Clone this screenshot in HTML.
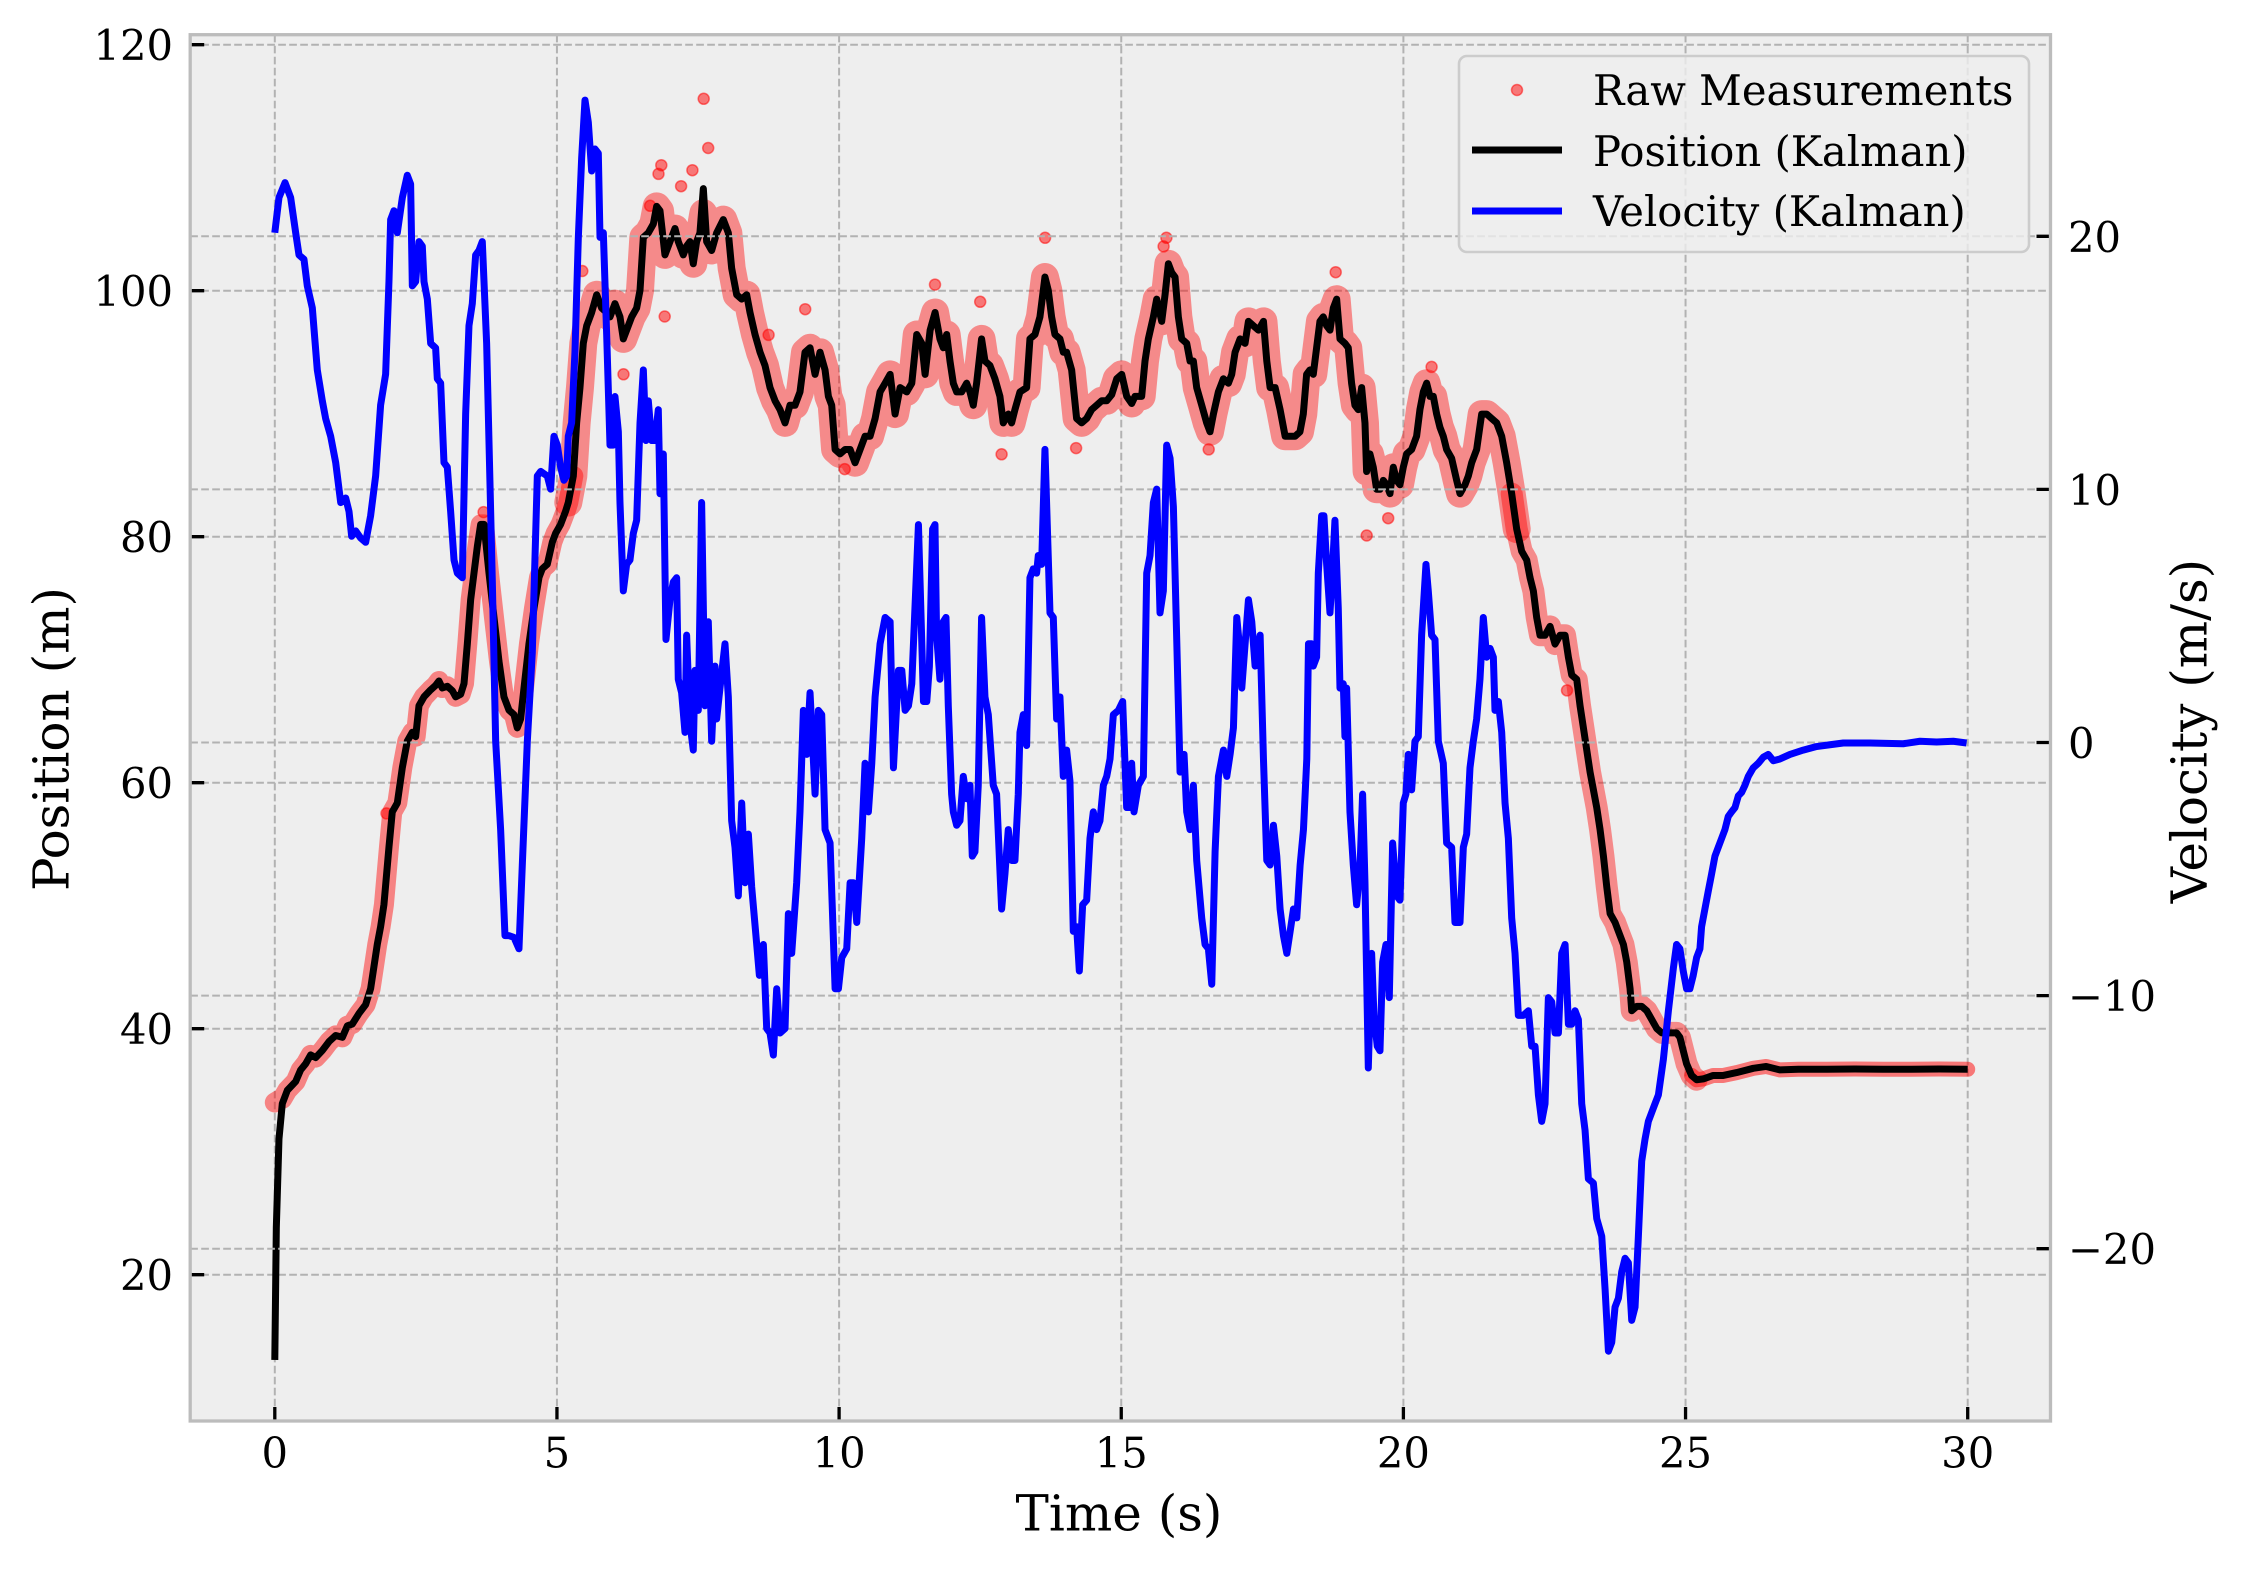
<!DOCTYPE html>
<html>
<head>
<meta charset="utf-8">
<style>
html,body{margin:0;padding:0;background:#ffffff;}
svg{display:block;}
text{font-family:"DejaVu Serif","Liberation Serif",serif;fill:#000;}
</style>
</head>
<body>
<svg width="2249" height="1572" viewBox="0 0 2249 1572" xmlns="http://www.w3.org/2000/svg">
<rect x="0" y="0" width="2249" height="1572" fill="#ffffff"/>
<!-- axes background -->
<rect x="190.2" y="34.7" width="1860.3" height="1386.3" fill="#eeeeee"/>

<!-- grid: vertical + position horizontal -->
<g stroke="#b2b2b2" stroke-width="2" stroke-dasharray="7.7 3.3" fill="none">
  <path d="M274.8 34.7V1421 M556.95 34.7V1421 M839.1 34.7V1421 M1121.25 34.7V1421 M1403.4 34.7V1421 M1685.55 34.7V1421 M1967.7 34.7V1421"/>
  <path d="M190.2 1274.7H2050.5 M190.2 1028.7H2050.5 M190.2 782.7H2050.5 M190.2 536.7H2050.5 M190.2 290.7H2050.5 M190.2 44.7H2050.5"/>
</g>

<!-- raw measurement bands (position coords) -->
<g transform="matrix(56.43 0 0 -12.3 274.8 1520.7)" fill="none" stroke="#ff0000" stroke-linejoin="round" stroke-linecap="round">
  <path vector-effect="non-scaling-stroke" stroke-width="20" stroke-opacity="0.45" d="M0,34 L0.074,34.2 0.133,34.3 0.222,35 0.37,35.71 0.458,36.65 0.547,37.15 0.636,37.87 0.724,37.65 0.842,38.23 0.961,38.95 1.079,39.45 1.197,39.3 1.286,40.24 1.374,40.38 1.492,41.24 1.61,41.96 1.698,43.26 1.757,45.05 1.816,46.85 1.875,48.29 1.934,50.09 2.023,54.76 2.082,57.63 2.171,58.35 2.26,61.23 2.348,63.38 2.437,64.1 2.496,63.74 2.555,66.26 2.644,66.98 2.762,67.55 2.85,67.91 2.909,68.27 2.968,67.7 3.057,67.84 3.146,67.48 3.205,66.98 3.294,67.19 3.353,68.06 3.412,71.29 3.471,74.89 3.53,77.04 3.589,79.2 3.648,81.0 3.707,81.0 3.796,77.04 3.884,73.45 3.973,69.86 4.061,66.98 4.15,65.9 4.238,65.54 4.297,64.46 4.356,65.18 4.416,67.7 4.504,71.29 4.593,74.17 4.682,76.69 4.741,77.4 4.829,77.76 4.918,79.56 4.977,80.28 5.065,81.0 5.154,82.08 5.201,82.78 5.29,84.94"/>
  <path vector-effect="non-scaling-stroke" stroke-width="28" stroke-opacity="0.42" d="M5.201,82.78 L5.29,84.94 5.349,89.25 5.408,92.12 5.467,95.72 5.527,97.15 5.615,98.23 5.704,99.67 5.792,98.59 5.881,98.23 5.94,97.87 6.028,98.95 6.117,97.87 6.176,96.08 6.235,96.79 6.324,97.87 6.412,98.59 6.472,100.03 6.531,104.34 6.619,104.7 6.708,105.42 6.767,106.86 6.826,106.5 6.914,102.91 7.003,103.99 7.092,105.06 7.15,103.99 7.239,102.91 7.298,103.63 7.357,103.99 7.416,102.19 7.475,103.99 7.534,104.7 7.594,106.3 7.653,103.99 7.742,103.27 7.83,104.7 7.948,105.78 8.037,104.7 8.096,101.83 8.185,99.67 8.274,99.31 8.362,99.67 8.421,98.23 8.51,96.44 8.599,95.0 8.687,93.92 8.776,92.12 8.865,91.05 8.953,90.33 9.042,89.25 9.13,90.69 9.219,90.69 9.307,91.77 9.396,95.0 9.485,95.36 9.574,93.2 9.662,95.0 9.751,93.56 9.81,91.41 9.869,90.69 9.929,87.09 10.017,86.73 10.106,87.09 10.195,87.09 10.283,86.01 10.372,87.09 10.46,88.17 10.549,88.17 10.638,89.61 10.726,91.77 10.815,92.48 10.904,93.2 10.992,89.97 11.081,92.12 11.199,91.77 11.288,92.48 11.376,96.44 11.465,95.72 11.524,93.2 11.613,96.79 11.701,98.23 11.787,96.08 11.846,95.36 11.906,96.44 11.965,94.28 12.024,92.48 12.083,91.77 12.172,91.77 12.26,92.48 12.319,91.77 12.378,90.69 12.437,92.48 12.525,96.08 12.585,94.28 12.673,93.92 12.762,92.84 12.85,91.41 12.909,89.25 12.998,89.97 13.057,89.25 13.116,90.33 13.205,91.77 13.323,92.12 13.382,96.08 13.471,96.44 13.559,97.87 13.648,101.11 13.707,100.03 13.766,97.87 13.825,96.44 13.914,96.08 13.973,95.0 14.032,95.0 14.121,93.56 14.209,89.61 14.298,89.25 14.387,89.61 14.475,90.33 14.564,90.69 14.653,91.05 14.742,91.05 14.831,91.55 14.92,92.84 15.008,93.2 15.097,91.41 15.185,90.83 15.244,91.41 15.362,91.41 15.421,94.28 15.48,96.08 15.569,97.87 15.628,99.31 15.717,97.51 15.776,99.67 15.835,102.19 15.894,101.47 15.953,101.11 16.012,97.87 16.071,96.08 16.16,95.72 16.219,94.28 16.278,94.28 16.337,92.12 16.426,90.69 16.514,89.25 16.573,88.53 16.633,89.97 16.721,91.77 16.81,92.84 16.899,92.48 16.958,93.2 17.017,95.0 17.106,96.08 17.194,95.72 17.254,97.51 17.342,97.15 17.431,96.79 17.52,97.51 17.579,94.28 17.638,92.12 17.727,92.12 17.815,90.33 17.904,88.17 17.993,88.17 18.082,88.17 18.167,88.53 18.226,89.97 18.285,93.2 18.344,93.56 18.403,93.2 18.462,95.36 18.521,97.51 18.58,97.87 18.64,97.15 18.699,96.79 18.758,98.59 18.817,99.31 18.876,96.08 18.964,95.72 19.023,95.36 19.082,92.48 19.141,90.69 19.2,90.33 19.26,92.12 19.319,89.25 19.348,85.3 19.407,86.73 19.466,85.65 19.525,83.86 19.585,83.86 19.644,84.58 19.703,84.22 19.762,83.5 19.821,85.65 19.88,84.58 19.939,84.22 19.998,85.65 20.057,86.73 20.146,87.09 20.234,88.17 20.293,90.33 20.353,91.77 20.412,92.48 20.471,91.41 20.53,91.41 20.589,89.97 20.648,88.89 20.707,88.17 20.766,87.09 20.855,86.37 20.944,84.58 21.003,83.5 21.092,84.22 21.151,84.94 21.21,86.01 21.298,87.09 21.387,89.97 21.476,89.97 21.564,89.61 21.653,89.25 21.742,88.17 21.83,86.01 21.919,83.5 22.008,80.62"/>
  <path vector-effect="non-scaling-stroke" stroke-width="22" stroke-opacity="0.42" d="M21.919,83.5 L22.008,80.62 22.096,78.82 22.185,78.1 22.244,76.67 22.303,75.59 22.362,73.43 22.421,71.99 22.51,71.99 22.599,72.71 22.687,71.27 22.776,71.99 22.865,71.99 22.924,70.2 22.983,68.76 23.072,68.4 23.131,66.24 23.19,64.46 23.249,62.66 23.308,60.86 23.367,59.42 23.426,57.98 23.485,56.19 23.545,54.03 23.604,51.52 23.663,49.36 23.751,48.64 23.81,47.92 23.899,46.85 23.958,45.41 24.017,43.25 24.046,41.46 24.135,41.82 24.223,41.82 24.312,41.46 24.401,40.74 24.489,40.02 24.578,39.66 24.667,39.66 24.755,39.66 24.841,39.66 24.9,39.3 24.959,38.22 25.018,37.15 25.107,36.2 25.196,35.85"/>
  <path vector-effect="non-scaling-stroke" stroke-width="15" stroke-opacity="0.5" d="M25.107,36.2 L25.196,35.85 25.314,35.92 25.49,36.2 25.668,36.2 25.904,36.43 26.2,36.78 26.43,36.93 26.67,36.65 27.0,36.7 27.5,36.7 28,36.72 28.5,36.7 29,36.7 29.5,36.72 30,36.7"/>
</g>

<!-- raw outlier dots -->
<g fill="#ff0000" fill-opacity="0.5" stroke="#ff0000" stroke-opacity="0.5" stroke-width="1.5">
  <circle cx="703.7" cy="98.8" r="5.5"/>
  <circle cx="708.2" cy="148" r="5.5"/>
  <circle cx="658.5" cy="173.9" r="5.5"/>
  <circle cx="661.3" cy="165.2" r="5.5"/>
  <circle cx="681.1" cy="186.2" r="5.5"/>
  <circle cx="692.4" cy="170.2" r="5.5"/>
  <circle cx="650.1" cy="205.8" r="5.5"/>
  <circle cx="1045.1" cy="237.8" r="5.5"/>
  <circle cx="1166.4" cy="237.8" r="5.5"/>
  <circle cx="1163.6" cy="246.4" r="5.5"/>
  <circle cx="1335.7" cy="272.2" r="5.5"/>
  <circle cx="1366.7" cy="535.5" r="5.5"/>
  <circle cx="1388.2" cy="518.2" r="5.5"/>
  <circle cx="623.5" cy="374.3" r="5.5"/>
  <circle cx="805.2" cy="309.2" r="5.5"/>
  <circle cx="935" cy="284.6" r="5.5"/>
  <circle cx="582.3" cy="271" r="5.5"/>
  <circle cx="1001.6" cy="454.3" r="5.5"/>
  <circle cx="1076.1" cy="448.1" r="5.5"/>
  <circle cx="1208.7" cy="449.4" r="5.5"/>
  <circle cx="980.2" cy="301.8" r="5.5"/>
  <circle cx="664.7" cy="316.5" r="5.5"/>
  <circle cx="844.7" cy="469.1" r="5.5"/>
  <circle cx="768.6" cy="334.9" r="5.5"/>
  <circle cx="1431.6" cy="366.9" r="5.5"/>
  <circle cx="1567" cy="690.4" r="5.5"/>
  <circle cx="483.6" cy="512.1" r="5.5"/>
  <circle cx="386.5" cy="813.4" r="5.5"/>
</g>

<!-- position (Kalman) -->
<g transform="matrix(56.43 0 0 -12.3 274.8 1520.7)" fill="none" stroke="#000000" stroke-linejoin="round">
  <path vector-effect="non-scaling-stroke" stroke-width="7" d="M0,13.07 L0.027,23.85 0.074,31.04 0.133,33.91 0.222,34.99 0.37,35.71 0.458,36.65 0.547,37.15 0.636,37.87 0.724,37.65 0.842,38.23 0.961,38.95 1.079,39.45 1.197,39.3 1.286,40.24 1.374,40.38 1.492,41.24 1.61,41.96 1.698,43.26 1.757,45.05 1.816,46.85 1.875,48.29 1.934,50.09 2.023,54.76 2.082,57.63 2.171,58.35 2.26,61.23 2.348,63.38 2.437,64.1 2.496,63.74 2.555,66.26 2.644,66.98 2.762,67.55 2.85,67.91 2.909,68.27 2.968,67.7 3.057,67.84 3.146,67.48 3.205,66.98 3.294,67.19 3.353,68.06 3.412,71.29 3.471,74.89 3.53,77.04 3.589,79.2 3.648,81.0 3.707,81.0 3.796,77.04 3.884,73.45 3.973,69.86 4.061,66.98 4.15,65.9 4.238,65.54 4.297,64.46 4.356,65.18 4.416,67.7 4.504,71.29 4.593,74.17 4.682,76.69 4.741,77.4 4.829,77.76 4.918,79.56 4.977,80.28 5.065,81.0 5.154,82.08 5.201,82.78 5.29,84.94 5.349,89.25 5.408,92.12 5.467,95.72 5.527,97.15 5.615,98.23 5.704,99.67 5.792,98.59 5.881,98.23 5.94,97.87 6.028,98.95 6.117,97.87 6.176,96.08 6.235,96.79 6.324,97.87 6.412,98.59 6.472,100.03 6.531,104.34 6.619,104.7 6.708,105.42 6.767,106.86 6.826,106.5 6.914,102.91 7.003,103.99 7.092,105.06 7.15,103.99 7.239,102.91 7.298,103.63 7.357,103.99 7.416,102.19 7.475,103.99 7.534,104.7 7.594,108.3 7.653,103.99 7.742,103.27 7.83,104.7 7.948,105.78 8.037,104.7 8.096,101.83 8.185,99.67 8.274,99.31 8.362,99.67 8.421,98.23 8.51,96.44 8.599,95.0 8.687,93.92 8.776,92.12 8.865,91.05 8.953,90.33 9.042,89.25 9.13,90.69 9.219,90.69 9.307,91.77 9.396,95.0 9.485,95.36 9.574,93.2 9.662,95.0 9.751,93.56 9.81,91.41 9.869,90.69 9.929,87.09 10.017,86.73 10.106,87.09 10.195,87.09 10.283,86.01 10.372,87.09 10.46,88.17 10.549,88.17 10.638,89.61 10.726,91.77 10.815,92.48 10.904,93.2 10.992,89.97 11.081,92.12 11.199,91.77 11.288,92.48 11.376,96.44 11.465,95.72 11.524,93.2 11.613,96.79 11.701,98.23 11.787,96.08 11.846,95.36 11.906,96.44 11.965,94.28 12.024,92.48 12.083,91.77 12.172,91.77 12.26,92.48 12.319,91.77 12.378,90.69 12.437,92.48 12.525,96.08 12.585,94.28 12.673,93.92 12.762,92.84 12.85,91.41 12.909,89.25 12.998,89.97 13.057,89.25 13.116,90.33 13.205,91.77 13.323,92.12 13.382,96.08 13.471,96.44 13.559,97.87 13.648,101.11 13.707,100.03 13.766,97.87 13.825,96.44 13.914,96.08 13.973,95.0 14.032,95.0 14.121,93.56 14.209,89.61 14.298,89.25 14.387,89.61 14.475,90.33 14.564,90.69 14.653,91.05 14.742,91.05 14.831,91.55 14.92,92.84 15.008,93.2 15.097,91.41 15.185,90.83 15.244,91.41 15.362,91.41 15.421,94.28 15.48,96.08 15.569,97.87 15.628,99.31 15.717,97.51 15.776,99.67 15.835,102.19 15.894,101.47 15.953,101.11 16.012,97.87 16.071,96.08 16.16,95.72 16.219,94.28 16.278,94.28 16.337,92.12 16.426,90.69 16.514,89.25 16.573,88.53 16.633,89.97 16.721,91.77 16.81,92.84 16.899,92.48 16.958,93.2 17.017,95.0 17.106,96.08 17.194,95.72 17.254,97.51 17.342,97.15 17.431,96.79 17.52,97.51 17.579,94.28 17.638,92.12 17.727,92.12 17.815,90.33 17.904,88.17 17.993,88.17 18.082,88.17 18.167,88.53 18.226,89.97 18.285,93.2 18.344,93.56 18.403,93.2 18.462,95.36 18.521,97.51 18.58,97.87 18.64,97.15 18.699,96.79 18.758,98.59 18.817,99.31 18.876,96.08 18.964,95.72 19.023,95.36 19.082,92.48 19.141,90.69 19.2,90.33 19.26,92.12 19.319,89.25 19.348,85.3 19.407,86.73 19.466,85.65 19.525,83.86 19.585,83.86 19.644,84.58 19.703,84.22 19.762,83.5 19.821,85.65 19.88,84.58 19.939,84.22 19.998,85.65 20.057,86.73 20.146,87.09 20.234,88.17 20.293,90.33 20.353,91.77 20.412,92.48 20.471,91.41 20.53,91.41 20.589,89.97 20.648,88.89 20.707,88.17 20.766,87.09 20.855,86.37 20.944,84.58 21.003,83.5 21.092,84.22 21.151,84.94 21.21,86.01 21.298,87.09 21.387,89.97 21.476,89.97 21.564,89.61 21.653,89.25 21.742,88.17 21.83,86.01 21.919,83.5 22.008,80.62 22.096,78.82 22.185,78.1 22.244,76.67 22.303,75.59 22.362,73.43 22.421,71.99 22.51,71.99 22.599,72.71 22.687,71.27 22.776,71.99 22.865,71.99 22.924,70.2 22.983,68.76 23.072,68.4 23.131,66.24 23.19,64.46 23.249,62.66 23.308,60.86 23.367,59.42 23.426,57.98 23.485,56.19 23.545,54.03 23.604,51.52 23.663,49.36 23.751,48.64 23.81,47.92 23.899,46.85 23.958,45.41 24.017,43.25 24.046,41.46 24.135,41.82 24.223,41.82 24.312,41.46 24.401,40.74 24.489,40.02 24.578,39.66 24.667,39.66 24.755,39.66 24.841,39.66 24.9,39.3 24.959,38.22 25.018,37.15 25.107,36.2 25.196,35.85 25.314,35.92 25.49,36.2 25.668,36.2 25.904,36.43 26.2,36.78 26.43,36.93 26.67,36.65 27.0,36.7 27.5,36.7 28,36.72 28.5,36.7 29,36.7 29.5,36.72 30,36.7"/>
</g>

<!-- velocity axis grid (twin axes) -->
<g stroke="#b2b2b2" stroke-width="2" stroke-dasharray="7.7 3.3" fill="none">
  <path d="M190.2 1248.7H2050.5 M190.2 995.6H2050.5 M190.2 742.5H2050.5 M190.2 489.4H2050.5 M190.2 236.3H2050.5"/>
</g>

<!-- velocity (Kalman) -->
<g transform="matrix(56.43 0 0 -25.31 274.8 742.5)" fill="none" stroke="#0000ff" stroke-linejoin="round">
  <path vector-effect="non-scaling-stroke" stroke-width="7" d="M0,20.14 L0.074,21.53 0.181,22.12 0.281,21.53 0.37,20.14 0.429,19.26 0.517,19.09 0.576,18.04 0.665,17.17 0.753,14.72 0.842,13.5 0.901,12.8 0.99,12.1 1.079,11.06 1.168,9.48 1.256,9.66 1.315,9.13 1.362,8.15 1.433,8.36 1.521,8.08 1.61,7.91 1.698,8.96 1.787,10.53 1.875,13.33 1.964,14.55 2.023,18.21 2.053,20.66 2.112,21.01 2.171,20.14 2.26,21.53 2.348,22.41 2.407,22.06 2.437,18.04 2.496,18.21 2.555,19.79 2.614,19.61 2.644,18.21 2.703,17.52 2.762,15.77 2.85,15.59 2.88,14.37 2.939,14.2 2.998,11.06 3.057,10.88 3.116,9.13 3.176,7.21 3.235,6.69 3.323,6.51 3.382,12.97 3.441,16.47 3.5,17.34 3.559,19.26 3.618,19.44 3.677,19.79 3.754,15.77 3.855,6.34 3.914,0.05 4.002,-3.44 4.079,-7.63 4.15,-7.63 4.238,-7.7 4.327,-8.15 4.386,-4.84 4.475,0.05 4.563,3.55 4.652,10.53 4.711,10.71 4.829,10.53 4.888,10.01 4.947,12.1 5.006,11.75 5.065,10.88 5.124,10.36 5.172,10.53 5.201,12.1 5.26,12.63 5.319,15.42 5.379,19.96 5.438,23.1 5.497,25.38 5.556,24.5 5.615,22.58 5.674,23.45 5.733,23.28 5.763,19.96 5.822,20.14 5.881,16.12 5.94,11.75 5.999,11.75 6.028,13.67 6.088,12.28 6.117,9.48 6.176,5.99 6.235,7.04 6.294,7.21 6.353,8.26 6.412,8.78 6.472,12.63 6.531,14.72 6.578,11.93 6.619,13.5 6.678,11.93 6.737,11.93 6.796,13.15 6.826,9.83 6.885,11.4 6.932,4.07 7.003,5.64 7.062,6.34 7.121,6.51 7.15,2.5 7.209,1.97 7.269,0.4 7.298,4.24 7.357,0.75 7.416,-0.3 7.446,2.85 7.505,1.27 7.564,9.48 7.623,1.45 7.682,4.77 7.742,0.05 7.801,3.02 7.83,0.93 7.889,2.15 7.978,3.9 8.037,1.8 8.096,-3.09 8.155,-4.14 8.214,-6.06 8.274,-2.39 8.333,-5.54 8.392,-3.62 8.451,-5.71 8.54,-7.98 8.587,-9.2 8.658,-7.98 8.717,-11.3 8.776,-11.48 8.835,-12.35 8.894,-9.73 8.953,-11.48 9.042,-11.3 9.101,-6.76 9.16,-8.33 9.248,-5.54 9.307,-2.74 9.367,1.27 9.426,-0.47 9.485,1.97 9.574,-2.04 9.633,1.27 9.692,1.1 9.751,-3.44 9.84,-3.97 9.929,-9.73 9.988,-9.73 10.047,-8.5 10.135,-8.15 10.195,-5.54 10.254,-5.54 10.313,-7.11 10.401,-3.79 10.46,-0.82 10.519,-2.74 10.579,-0.82 10.638,1.8 10.726,3.9 10.815,4.94 10.904,4.77 10.963,-1.0 11.052,2.85 11.111,2.85 11.17,1.27 11.229,1.45 11.288,2.32 11.406,8.61 11.495,1.62 11.554,1.62 11.6,3 11.657,8.43 11.699,8.61 11.728,4.24 11.787,2.5 11.846,4.77 11.894,4.94 11.935,1.45 11.994,-2.04 12.024,-2.74 12.083,-3.27 12.142,-3.09 12.201,-1.34 12.26,-2.22 12.319,-1.69 12.36,-4.49 12.407,-4.32 12.466,-1.69 12.525,4.94 12.585,1.8 12.644,1.1 12.732,-1.69 12.791,-2.04 12.88,-6.58 12.939,-5.19 12.998,-3.44 13.057,-4.66 13.116,-4.66 13.175,-2.04 13.205,0.4 13.264,1.1 13.323,-0.12 13.382,6.51 13.441,6.86 13.5,6.69 13.53,7.39 13.589,7.04 13.648,11.58 13.737,5.12 13.796,4.94 13.855,0.93 13.914,1.8 13.973,-1.34 14.032,-0.3 14.091,-1.52 14.15,-7.46 14.209,-7.28 14.257,-9.03 14.316,-6.41 14.387,-6.23 14.446,-3.79 14.505,-2.74 14.564,-3.44 14.623,-3.09 14.683,-1.69 14.742,-1.34 14.801,-0.65 14.86,1.1 14.949,1.27 15.025,1.62 15.096,-2.57 15.155,-2.57 15.184,-0.82 15.226,-2.74 15.303,-1.69 15.392,-1.34 15.451,6.69 15.51,7.39 15.569,9.48 15.628,10.01 15.687,5.12 15.746,5.99 15.805,11.75 15.865,11.23 15.924,9.31 15.983,4.07 16.042,-1.17 16.113,-0.47 16.16,-2.74 16.219,-3.44 16.278,-1.69 16.337,-4.66 16.426,-6.93 16.485,-7.98 16.544,-8.15 16.604,-9.55 16.663,-4.31 16.722,-1.34 16.811,-0.3 16.87,-1.34 16.929,-0.47 16.988,0.58 17.047,4.94 17.106,3.55 17.136,2.15 17.195,3.9 17.254,5.64 17.313,4.77 17.372,3.02 17.461,4.24 17.52,-0.65 17.579,-4.66 17.638,-4.84 17.697,-3.27 17.756,-4.49 17.815,-6.58 17.874,-7.63 17.934,-8.33 17.993,-7.46 18.052,-6.58 18.111,-6.93 18.17,-4.84 18.229,-3.44 18.288,-0.65 18.318,3.9 18.373,3.9 18.403,3.02 18.462,3.37 18.492,6.69 18.551,8.96 18.592,8.96 18.64,7.04 18.699,5.12 18.74,6.69 18.787,8.78 18.846,5.29 18.876,2.15 18.935,2.32 18.964,0.23 18.994,2.15 19.053,-2.74 19.112,-4.84 19.171,-6.41 19.23,-5.01 19.277,-2.04 19.319,-5.54 19.378,-12.86 19.437,-8.33 19.478,-10.78 19.537,-12.0 19.585,-12.18 19.632,-8.68 19.691,-7.98 19.75,-10.08 19.809,-3.97 19.88,-6.06 19.939,-6.23 19.998,-2.39 20.045,-2.04 20.087,-0.47 20.146,-1.87 20.205,0.05 20.264,0.23 20.323,4.24 20.4,7.04 20.441,5.99 20.5,4.24 20.56,4.07 20.619,0.05 20.707,-0.82 20.766,-3.97 20.855,-4.14 20.914,-7.11 21.003,-7.11 21.062,-4.14 21.121,-3.62 21.18,-1.0 21.239,0.05 21.298,0.93 21.357,2.5 21.416,4.94 21.476,3.37 21.535,3.72 21.594,3.37 21.623,1.27 21.683,1.62 21.742,0.4 21.801,-2.39 21.86,-3.79 21.919,-6.93 21.978,-8.33 22.037,-10.78 22.126,-10.78 22.215,-10.6 22.274,-12.0 22.333,-12.0 22.392,-13.92 22.451,-14.97 22.51,-14.27 22.569,-10.08 22.628,-10.25 22.687,-11.48 22.747,-11.48 22.806,-8.33 22.865,-7.98 22.924,-11.13 22.983,-11.13 23.042,-10.6 23.101,-10.95 23.16,-14.27 23.219,-15.32 23.278,-17.24 23.367,-17.41 23.426,-18.81 23.515,-19.51 23.574,-21.6 23.633,-24.05 23.692,-23.7 23.75,-22.31 23.81,-21.96 23.869,-20.91 23.928,-20.38 23.987,-20.56 24.046,-22.83 24.105,-22.31 24.164,-19.51 24.223,-16.54 24.282,-15.67 24.341,-14.97 24.43,-14.44 24.519,-13.92 24.607,-12.52 24.696,-10.6 24.785,-8.9 24.841,-7.98 24.9,-8.15 24.959,-9.03 25.018,-9.73 25.077,-9.73 25.136,-9.2 25.196,-8.5 25.255,-8.15 25.284,-7.28 25.343,-6.58 25.402,-5.88 25.462,-5.19 25.521,-4.49 25.58,-4.14 25.639,-3.79 25.698,-3.44 25.757,-2.92 25.816,-2.74 25.876,-2.57 25.935,-2.11 25.994,-1.97 26.053,-1.69 26.112,-1.34 26.2,-1.0 26.289,-0.82 26.378,-0.58 26.466,-0.47 26.555,-0.72 26.673,-0.65 26.85,-0.47 27.086,-0.3 27.322,-0.16 27.559,-0.09 27.795,-0.02 28.268,-0.02 28.858,-0.05 29.154,0.05 29.449,0.02 29.744,0.05 29.98,-0.02"/>
</g>

<!-- ticks (inward) -->
<g stroke="#000" stroke-width="3.3" fill="none">
  <path d="M190.2 1274.7h14 M190.2 1028.7h14 M190.2 782.7h14 M190.2 536.7h14 M190.2 290.7h14 M190.2 44.7h14"/>
  <path d="M274.8 1421v-14 M556.95 1421v-14 M839.1 1421v-14 M1121.25 1421v-14 M1403.4 1421v-14 M1685.55 1421v-14 M1967.7 1421v-14"/>
  <path d="M2050.5 1248.7h-14 M2050.5 995.6h-14 M2050.5 742.5h-14 M2050.5 489.4h-14 M2050.5 236.3h-14"/>
</g>

<!-- frame -->
<rect x="190.2" y="34.7" width="1860.3" height="1386.3" fill="none" stroke="#bcbcbc" stroke-width="3.3"/>

<!-- legend -->
<rect x="1459" y="56" width="570" height="196" rx="8" ry="8" fill="#eeeeee" fill-opacity="0.8" stroke="#cccccc" stroke-width="2.6"/>
<circle cx="1517" cy="90" r="5.5" fill="#ff0000" fill-opacity="0.5" stroke="#ff0000" stroke-opacity="0.5" stroke-width="1.5"/>
<line x1="1472" y1="150" x2="1562" y2="150" stroke="#000" stroke-width="7"/>
<line x1="1472" y1="211" x2="1562" y2="211" stroke="#0000ff" stroke-width="7"/>
<g font-size="41.7">
  <text x="1593" y="105">Raw Measurements</text>
  <text x="1593" y="166">Position (Kalman)</text>
  <text x="1593" y="226">Velocity (Kalman)</text>
</g>

<!-- tick labels -->
<g font-size="41.7" text-anchor="end">
  <text x="173" y="1290">20</text>
  <text x="173" y="1044">40</text>
  <text x="173" y="798">60</text>
  <text x="173" y="552">80</text>
  <text x="173" y="306">100</text>
  <text x="173" y="60">120</text>
</g>
<g font-size="41.7" text-anchor="middle">
  <text x="274.8" y="1467.5">0</text>
  <text x="556.95" y="1467.5">5</text>
  <text x="839.1" y="1467.5">10</text>
  <text x="1121.25" y="1467.5">15</text>
  <text x="1403.4" y="1467.5">20</text>
  <text x="1685.55" y="1467.5">25</text>
  <text x="1967.7" y="1467.5">30</text>
</g>
<g font-size="41.7" text-anchor="start">
  <text x="2068" y="1264">−20</text>
  <text x="2068" y="1011">−10</text>
  <text x="2068" y="758">0</text>
  <text x="2068" y="505">10</text>
  <text x="2068" y="252">20</text>
</g>

<!-- axis labels -->
<g font-size="50" text-anchor="middle">
  <text x="1119" y="1530.5">Time (s)</text>
  <text transform="translate(68.3,739) rotate(-90)">Position (m)</text>
  <text transform="translate(2206.7,731) rotate(-90)">Velocity (m/s)</text>
</g>
</svg>
</body>
</html>
